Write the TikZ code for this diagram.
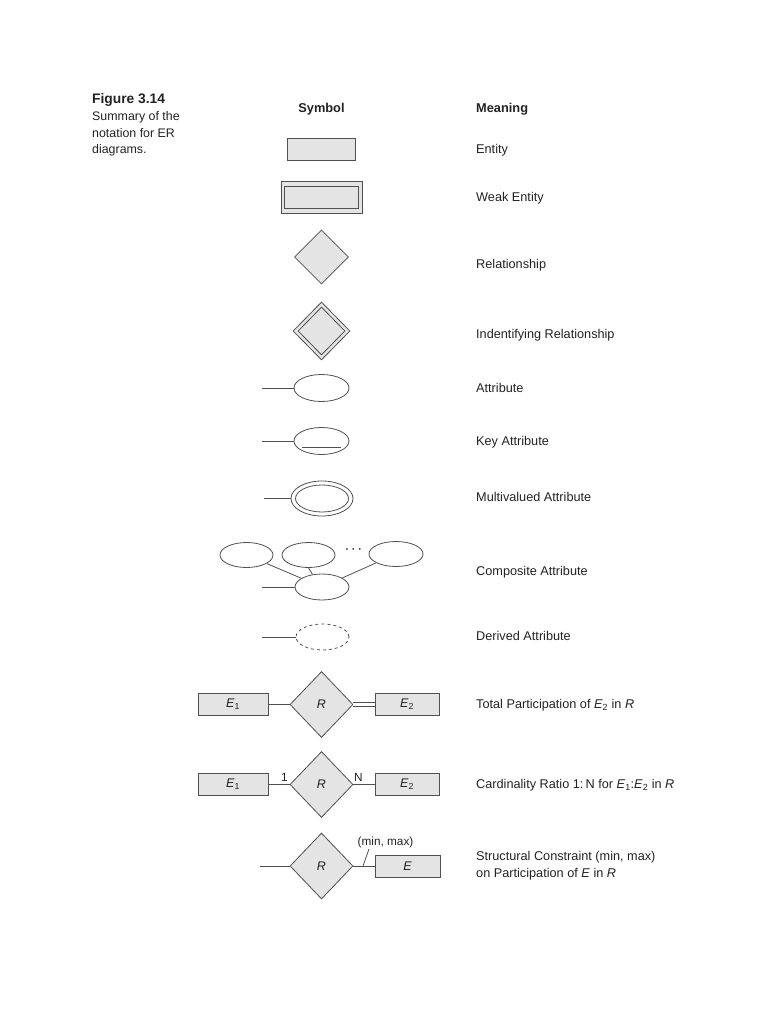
\documentclass[tikz,border=0pt]{standalone}
\usepackage{fontspec}
\setmainfont{Liberation Sans}
\usetikzlibrary{shapes.geometric}
\definecolor{fillg}{HTML}{E4E4E4}
\definecolor{lineg}{HTML}{505050}
\definecolor{textg}{HTML}{222222}
\begin{document}
\begin{tikzpicture}[x=1pt,y=-1pt,
  every node/.style={text=textg},
  txt/.style={anchor=base west,inner sep=0pt,font=\fontsize{12.7}{15}\selectfont},
  captxt/.style={anchor=base west,inner sep=0pt,font=\fontsize{12.4}{15}\selectfont},
  head/.style={anchor=base,inner sep=0pt,font=\fontsize{12.8}{15}\selectfont\bfseries},
  ent/.style={draw=lineg,fill=fillg,line width=0.8pt,minimum width=70pt,minimum height=22pt,inner sep=0pt,font=\fontsize{12.5}{15}\selectfont},
  rel/.style={diamond,aspect=1,draw=lineg,fill=fillg,line width=0.8pt,inner sep=0pt,font=\fontsize{12.5}{15}\selectfont},
  att/.style={ellipse,draw=lineg,line width=0.8pt,inner sep=0pt,minimum width=55pt,minimum height=27pt},
  conn/.style={draw=lineg,line width=0.8pt},
  small/.style={inner sep=0pt,font=\fontsize{11.8}{14}\selectfont}]
\useasboundingbox (0,0) rectangle (768,1024);

% caption
\node[anchor=base west,inner sep=0pt,font=\fontsize{13.8}{16}\selectfont\bfseries] (fig) at (92,104) {Figure 3.14};
\node[captxt] (cap1) at (92,121) {Summary of the};
\node[captxt] (cap2) at (92,137.5) {notation for ER};
\node[captxt] (cap3) at (92,154) {diagrams.};

% headings
\node[head] (hsym) at (321.5,113) {Symbol};
\node[head,anchor=base west] (hmean) at (476,113) {Meaning};

% Entity
\node[ent,minimum width=68pt] (ent) at (321.5,149) {};
\node[txt] (tent) at (476,153.5) {Entity};

% Weak entity
\node[ent,minimum width=81pt,minimum height=32pt] (wout) at (321.5,197) {};
\node[ent,minimum width=74pt,minimum height=22pt] (win) at (321.5,197) {};
\node[txt] (twe) at (476,201.5) {Weak Entity};

% Relationship
\node[rel,minimum width=54pt,minimum height=54pt] (rel) at (321.5,257) {};
\node[txt] (trel) at (476,268.5) {Relationship};

% Identifying relationship
\node[rel,minimum width=57pt,minimum height=58pt] (irout) at (321.5,331) {};
\node[rel,minimum width=47pt,minimum height=48pt] (irin) at (321.5,331) {};
\node[txt] (tir) at (476,338.5) {Indentifying Relationship};

% Attribute
\node[att] (att) at (321.5,388) {};
\coordinate (attl) at (262,388);
\draw[conn] (attl) -- (att.west);
\node[txt] (tatt) at (476,392.5) {Attribute};

% Key attribute
\node[att] (katt) at (321.5,441) {};
\coordinate (kattl) at (262,441);
\draw[conn] (kattl) -- (katt.west);
\draw[conn] ([xshift=-19.5pt,yshift=-6pt]katt.center) -- ([xshift=19.5pt,yshift=-6pt]katt.center);
\node[txt] (tkatt) at (476,445.5) {Key Attribute};

% Multivalued attribute
\node[att,minimum width=62pt,minimum height=35pt] (mout) at (322,498.5) {};
\node[att,minimum width=53pt,minimum height=27pt] (min) at (322,498.5) {};
\coordinate (ml) at (264,498.5);
\draw[conn] (ml) -- (mout.west);
\node[txt] (tmv) at (476,501.5) {Multivalued Attribute};

% Composite attribute
\node[att,minimum width=53pt,minimum height=25pt] (c1) at (246.5,555) {};
\node[att,minimum width=53pt,minimum height=25pt] (c2) at (308.5,555) {};
\node[att,minimum width=54pt,minimum height=25pt] (c3) at (396,554) {};
\node[att,minimum width=54pt,minimum height=26pt] (cb) at (322,587) {};
\node[inner sep=0pt,font=\fontsize{15}{16}\selectfont] (dots) at (353.5,551) {·\kern1.3pt·\kern1.3pt·};
\coordinate (cl) at (262,587);
\draw[conn] (cl) -- (cb.west);
\draw[conn] (c1) -- (cb);
\draw[conn] (c2.south) -- (cb.127);
\draw[conn] (c3) -- (cb);
\node[txt] (tcomp) at (476,575.5) {Composite Attribute};

% Derived attribute
\node[att,dashed,minimum width=53pt,minimum height=26pt] (datt) at (322.5,637) {};
\coordinate (dl) at (262,637);
\draw[conn] (dl) -- (datt.west);
\node[txt] (tder) at (476,640.5) {Derived Attribute};

% Total participation
\node[ent] (tp1) at (233,704.5) {\textit{E}\textsubscript{1}};
\node[rel,minimum width=63pt,minimum height=66pt] (tpr) at (321.5,704.5) {\textit{R}};
\node[ent,minimum width=64pt] (tp2) at (407,704.5) {\textit{E}\textsubscript{2}};
\draw[conn] (tp1.east) -- (tpr.west);
\draw[draw=lineg,line width=0.8pt,double=white,double distance=2.8pt] (tpr.east) -- (tp2.west);
\node[txt] (ttp) at (476,708) {Total Participation of \textit{E}\textsubscript{2} in \textit{R}};

% Cardinality ratio
\node[ent] (cr1) at (233,784.5) {\textit{E}\textsubscript{1}};
\node[rel,minimum width=63pt,minimum height=66pt] (crr) at (321.5,784.5) {\textit{R}};
\node[ent,minimum width=64pt] (cr2) at (407,784.5) {\textit{E}\textsubscript{2}};
\draw[conn] (cr1.east) -- (crr.west);
\draw[conn] (crr.east) -- (cr2.west);
\node[small] (one) at (284.5,777.5) {1};
\node[small] (enn) at (358.5,777.5) {N};
\node[txt] (tcr) at (476,788.5) {Cardinality Ratio 1:\,N for \textit{E}\textsubscript{1}:\textit{E}\textsubscript{2} in \textit{R}};

% Structural constraint
\node[rel,minimum width=63pt,minimum height=66pt] (scr) at (321.5,866) {\textit{R}};
\node[ent,minimum width=65pt] (sce) at (407.5,866) {\textit{E}};
\coordinate (scl) at (260,866);
\draw[conn] (scl) -- (scr.west);
\draw[conn] (scr.east) -- (sce.west);
\node[small] (mm) at (385.5,842) {(min, max)};
\coordinate (tick) at (363,866);
\coordinate (ticktop) at (369,849);
\draw[conn] (tick) -- (ticktop);
\node[txt] (tsc1) at (476,860.5) {Structural Constraint (min, max)};
\node[txt] (tsc2) at (476,877.5) {on Participation of \textit{E} in \textit{R}};
\end{tikzpicture}
\end{document}
